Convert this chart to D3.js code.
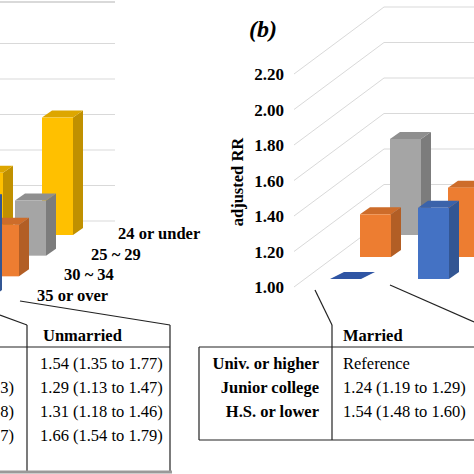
<!DOCTYPE html>
<html><head><meta charset="utf-8">
<script src="https://cdn.jsdelivr.net/npm/d3@7"></script>
<style>body{margin:0;background:#fff}svg{display:block}text{font-family:"Liberation Serif","Times New Roman",serif}</style>
</head><body><svg id="c" width="474" height="474"></svg>
<script>
const ticks = [1.00,1.20,1.40,1.60,1.80,2.00,2.20];
const ageRows = ["24 or under","25 ~ 29","30 ~ 34","35 or over"];
const ageMarried = [1.35,null,null,null];
const ageUnmarried = [1.66,1.31,1.29,1.54];
const eduRows = ["Univ. or higher","Junior college","H.S. or lower"];
const eduMarried = [1.00,1.24,1.54];
const eduUnmarried = [1.40,1.39,1.80];
const unmarriedCI = ["1.54 (1.35 to 1.77)","1.29 (1.13 to 1.47)","1.31 (1.18 to 1.46)","1.66 (1.54 to 1.79)"];
const marriedCI = ["Reference","1.24 (1.19 to 1.29)","1.54 (1.48 to 1.60)"];
const partialCI = ["3)","8)","7)"];
const ageColors = ["#FFC000","#A5A5A5","#ED7D31","#4472C4"];
const eduColors = ["#4472C4","#ED7D31","#A5A5A5"];

const svg = d3.select("#c");
const h = d3.scaleLinear().domain([1,2.4]).range([0,249]);
const backY = d3.scaleLinear().domain([1,2.2]).range([220,7]);
const DX=10, DY=-7, W=31;

function bar(g,x,yb,v,color){
  const y = yb - h(v);
  const c = d3.color(color);
  g.append("path").attr("d",`M${x+W},${yb}L${x+W+DX},${yb+DY}L${x+W+DX},${y+DY}L${x+W},${y}Z`).attr("fill",c.darker(0.8));
  g.append("path").attr("d",`M${x},${y}L${x+DX},${y+DY}L${x+W+DX},${y+DY}L${x+W},${y}Z`).attr("fill",c.darker(0.4));
  g.append("rect").attr("x",x).attr("y",y).attr("width",W).attr("height",Math.max(0,yb-y)).attr("fill",color);
}

// left panel
const gl = svg.append("g");
gl.append("line").attr("x1",0).attr("x2",115).attr("y1",2).attr("y2",2).attr("stroke","#d9d9d9").attr("stroke-width",2);
ticks.slice(0,6).forEach(t=>gl.append("line").attr("x1",0).attr("x2",115).attr("y1",backY(t)+1).attr("y2",backY(t)+1).attr("stroke","#d9d9d9"));
const lCol = d3.scaleOrdinal().domain(["Married","Unmarried"]).range([-28,42]);
const lRowX = d3.scalePoint().domain(ageRows).range([0,-81]);
const lRowY = d3.scalePoint().domain(ageRows).range([235,297]);
ageRows.forEach((r,i)=>{
  [["Married",ageMarried],["Unmarried",ageUnmarried]].forEach(([c,arr])=>{
    if(arr[i]!=null) bar(gl,lCol(c)+lRowX(r),lRowY(r),arr[i],ageColors[i]);
  });
});
ageRows.forEach((r,i)=>gl.append("text").attr("x",118+lRowX(r)).attr("y",lRowY(r)+4).attr("font-size",16.5).attr("font-weight","bold").text(r));

// right panel
const gr = svg.append("g");
ticks.forEach(t=>{
  const fy = backY(t)+67;
  gr.append("path").attr("d",`M294,${fy}L384,${backY(t)}L474,${backY(t)}`).attr("fill","none").attr("stroke","#d9d9d9");
  gr.append("text").attr("x",284).attr("y",fy+6).attr("text-anchor","end").attr("font-size",17).attr("font-weight","bold").text(t.toFixed(2));
});
gr.append("text").attr("transform","translate(243,182) rotate(-90)").attr("text-anchor","middle").attr("font-size",16.5).attr("font-weight","bold").text("adjusted RR");
gr.append("text").attr("x",249).attr("y",37).attr("font-size",24).attr("font-weight","bold").attr("font-style","italic").text("(b)");
const rCol = d3.scaleOrdinal().domain(["Married","Unmarried"]).range([330,418]);
const rRowX = d3.scalePoint().domain(eduRows).range([0,60]);
const rRowY = d3.scalePoint().domain(eduRows).range([279,235]);
for(let i=eduRows.length-1;i>=0;i--){
  const r=eduRows[i];
  [["Married",eduMarried],["Unmarried",eduUnmarried]].forEach(([c,arr])=>{
    const x=rCol(c)+rRowX(r), yb=rRowY(r);
    if(arr[i]<=1.001){
      gr.append("path").attr("d",`M${x},${yb}L${x+DX+4},${yb+DY}L${x+W+DX+4},${yb+DY}L${x+W},${yb}Z`).attr("fill","#2F55A4");
    } else bar(gr,x,yb,arr[i],eduColors[i]);
  });
}

// connectors and tables
const ln=(x1,y1,x2,y2,w=1.2)=>svg.append("line").attr("x1",x1).attr("y1",y1).attr("x2",x2).attr("y2",y2).attr("stroke","#222").attr("stroke-width",w);
ln(20,301,170,325); ln(0,315,27,325); ln(27,325,27,472); ln(170,325,170,472); ln(0,347,170,347);
svg.append("line").attr("x1",0).attr("x2",172).attr("y1",472).attr("y2",472).attr("stroke","#999").attr("stroke-width",3);
svg.append("text").attr("x",43).attr("y",341).attr("font-size",16.5).attr("font-weight","bold").text("Unmarried");
unmarriedCI.forEach((s,i)=>svg.append("text").attr("x",40).attr("y",369+i*24).attr("font-size",16.5).text(s));
partialCI.forEach((s,i)=>svg.append("text").attr("x",14).attr("y",393+i*24).attr("font-size",16.5).attr("text-anchor","end").text(s));

ln(315,290,332,325); ln(332,325,332,440); ln(390,285,474,322);
ln(199,347,474,347); ln(199,347,199,440); ln(199,440,474,440);
svg.append("text").attr("x",343).attr("y",341).attr("font-size",16.5).attr("font-weight","bold").text("Married");
eduRows.forEach((r,i)=>{
  svg.append("text").attr("x",319).attr("y",369+i*24).attr("text-anchor","end").attr("font-size",16.5).attr("font-weight","bold").text(r);
  svg.append("text").attr("x",343).attr("y",369+i*24).attr("font-size",16.5).text(marriedCI[i]);
});
</script></body></html>
